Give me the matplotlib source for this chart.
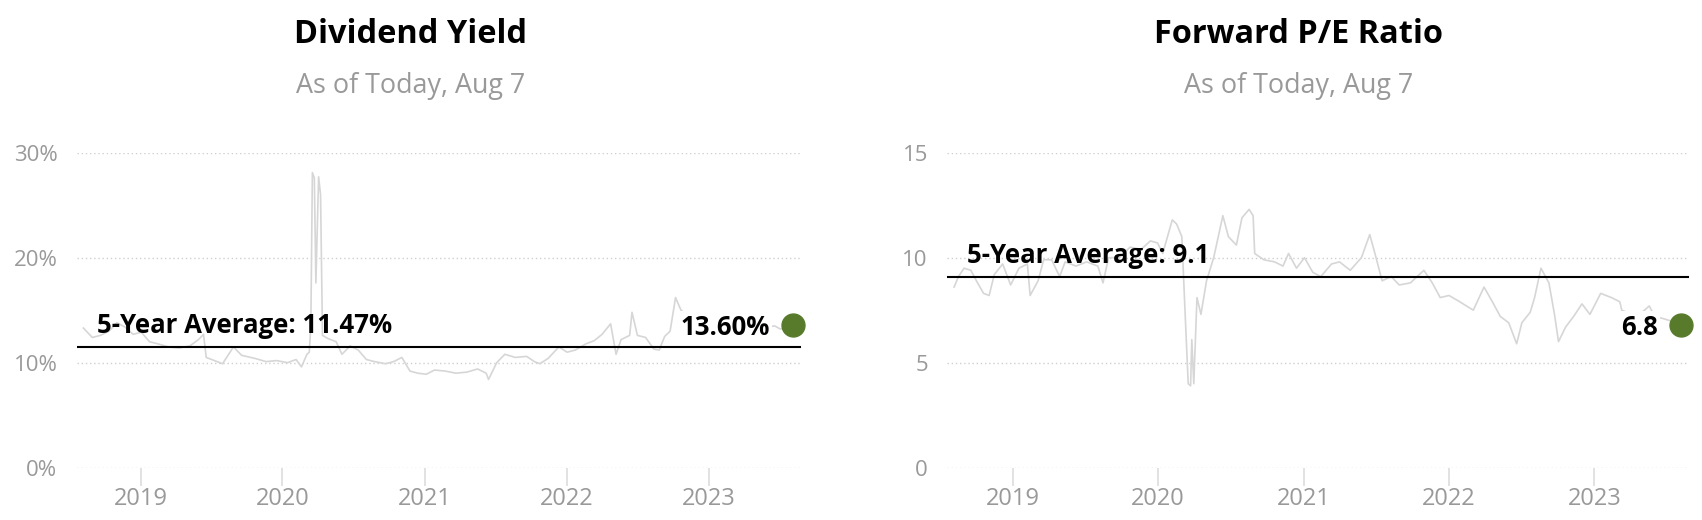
import matplotlib
matplotlib.use("Agg")
import matplotlib.pyplot as plt
import matplotlib.dates as mdates
import pandas as pd

plt.rcParams['font.family'] = ['Open Sans', 'DejaVu Sans']

# dividend yield (%)
dy_dates = ["2018-08-07", "2018-08-30", "2018-09-20", "2018-10-12", "2018-11-01", "2018-11-22",
            "2018-12-13", "2019-01-03", "2019-01-24", "2019-02-14", "2019-03-14", "2019-04-10",
            "2019-05-08", "2019-05-30", "2019-06-12", "2019-06-19", "2019-07-10", "2019-07-31",
            "2019-08-28", "2019-09-18", "2019-10-23", "2019-11-20", "2019-12-17", "2020-01-14",
            "2020-02-05", "2020-02-19", "2020-03-04", "2020-03-10", "2020-03-14", "2020-03-18",
            "2020-03-23", "2020-03-27", "2020-04-03", "2020-04-08", "2020-04-13", "2020-04-27",
            "2020-05-18", "2020-06-02", "2020-06-23", "2020-07-14", "2020-08-04", "2020-08-25",
            "2020-09-22", "2020-10-13", "2020-11-03", "2020-11-24", "2020-12-14", "2021-01-05",
            "2021-01-26", "2021-02-23", "2021-03-22", "2021-04-19", "2021-05-17", "2021-06-08",
            "2021-06-14", "2021-07-05", "2021-07-26", "2021-08-22", "2021-09-20", "2021-10-10",
            "2021-10-24", "2021-11-14", "2021-12-12", "2022-01-02", "2022-01-23", "2022-02-20",
            "2022-03-13", "2022-04-02", "2022-04-24", "2022-05-08", "2022-05-21", "2022-06-12",
            "2022-06-18", "2022-07-02", "2022-07-23", "2022-08-13", "2022-08-27", "2022-09-10",
            "2022-09-24", "2022-10-08", "2022-10-22", "2022-11-10", "2022-12-01", "2022-12-20",
            "2023-01-12", "2023-02-01", "2023-02-24", "2023-03-20", "2023-04-15", "2023-05-10",
            "2023-06-01", "2023-06-20", "2023-07-05", "2023-07-20", "2023-08-07"]
dy_values = [13.3, 12.4, 12.6, 13.0, 13.8, 13.4,
             12.7, 12.9, 12.0, 11.8, 11.5, 11.4,
             11.6, 12.2, 12.7, 10.5, 10.2, 9.9,
             11.5, 10.7, 10.4, 10.1, 10.2, 10.0,
             10.3, 9.6, 10.8, 11.0, 13.5, 28.1,
             27.6, 17.6, 27.7, 26.0, 12.6, 12.3,
             12.0, 10.8, 11.6, 11.2, 10.3, 10.1,
             9.9, 10.1, 10.5, 9.2, 9.0, 8.9,
             9.3, 9.2, 9.0, 9.1, 9.4, 9.0,
             8.4, 10.0, 10.8, 10.5, 10.6, 10.1,
             9.9, 10.4, 11.5, 11.0, 11.2, 11.8,
             12.1, 12.7, 13.7, 10.8, 12.2, 12.6,
             14.8, 12.6, 12.4, 11.3, 11.2, 12.5,
             13.0, 16.2, 15.0, 14.4, 13.3, 12.8,
             12.3, 12.2, 12.4, 12.6, 12.9, 13.1,
             13.4, 13.5, 13.2, 13.4, 13.6]
dy_avg = 11.47

# forward P/E
pe_dates = ["2018-08-07", "2018-08-18", "2018-09-01", "2018-09-18", "2018-10-02", "2018-10-20",
            "2018-11-03", "2018-11-16", "2018-12-07", "2018-12-27", "2019-01-17", "2019-02-07",
            "2019-02-14", "2019-03-06", "2019-03-20", "2019-04-09", "2019-04-29", "2019-05-13",
            "2019-06-09", "2019-07-06", "2019-08-03", "2019-08-16", "2019-08-30", "2019-09-26",
            "2019-10-23", "2019-11-20", "2019-12-13", "2019-12-31", "2020-01-13", "2020-02-06",
            "2020-02-17", "2020-03-01", "2020-03-08", "2020-03-17", "2020-03-23", "2020-03-26",
            "2020-03-31", "2020-04-08", "2020-04-18", "2020-05-02", "2020-05-20", "2020-06-12",
            "2020-06-26", "2020-07-16", "2020-07-30", "2020-08-17", "2020-08-27", "2020-08-31",
            "2020-09-23", "2020-10-20", "2020-11-10", "2020-11-24", "2020-12-14", "2021-01-03",
            "2021-01-24", "2021-02-13", "2021-03-12", "2021-04-01", "2021-04-28", "2021-05-26",
            "2021-06-16", "2021-06-29", "2021-07-17", "2021-08-09", "2021-08-29", "2021-09-26",
            "2021-10-30", "2021-11-20", "2021-12-10", "2022-01-01", "2022-01-28", "2022-03-03",
            "2022-03-30", "2022-04-20", "2022-05-10", "2022-05-31", "2022-06-20", "2022-07-03",
            "2022-07-24", "2022-08-04", "2022-08-20", "2022-09-09", "2022-09-23", "2022-10-03",
            "2022-10-21", "2022-11-10", "2022-12-01", "2022-12-21", "2023-01-17", "2023-02-13",
            "2023-03-06", "2023-03-11", "2023-04-05", "2023-05-01", "2023-05-19", "2023-06-02",
            "2023-06-23", "2023-07-10", "2023-08-07"]
pe_values = [8.6, 9.1, 9.5, 9.4, 8.9, 8.3,
             8.2, 9.2, 9.7, 8.7, 9.5, 9.7,
             8.2, 8.9, 9.9, 9.9, 9.1, 9.8,
             9.6, 9.8, 9.6, 8.8, 10.0, 10.0,
             10.5, 10.4, 10.8, 10.7, 10.2, 11.8,
             11.6, 11.0, 7.9, 4.0, 3.9, 6.1,
             4.0, 8.1, 7.3, 8.9, 10.0, 12.0,
             11.0, 10.6, 11.9, 12.3, 12.0, 10.2,
             9.9, 9.8, 9.6, 10.2, 9.5, 10.0,
             9.3, 9.1, 9.7, 9.8, 9.4, 10.0,
             11.1, 10.2, 8.9, 9.1, 8.7, 8.8,
             9.4, 8.8, 8.1, 8.2, 7.9, 7.5,
             8.6, 7.9, 7.2, 6.9, 5.9, 6.9,
             7.4, 8.1, 9.5, 8.8, 7.3, 6.0,
             6.7, 7.2, 7.8, 7.3, 8.3, 8.1,
             7.9, 7.5, 7.3, 7.4, 7.7, 7.2,
             7.1, 7.0, 6.8]
pe_avg = 9.1

titles = ["Dividend Yield", "Forward P/E Ratio"]
subtitle = "As of Today, Aug 7"

LINE = "#d6d6d6"
GRID = "#cfcfcf"
TICK = "#999999"
DOT = "#587b2b"

fig = plt.figure(figsize=(17.02, 5.2), dpi=100)

panels = [
    dict(rect=[0.0451, 0.1006, 0.4256, 0.6058], dates=dy_dates, vals=dy_values, avg=dy_avg,
         ylim=(0, 30), yticks=[0, 10, 20, 30], fmt="{:.0f}%", avg_fmt="{:.2f}%", last_fmt="{:.2f}%",
         title=titles[0], tx=411),
    dict(rect=[0.5566, 0.1006, 0.4358, 0.6058], dates=pe_dates, vals=pe_values, avg=pe_avg,
         ylim=(0, 15), yticks=[0, 5, 10, 15], fmt="{:.0f}", avg_fmt="{:.1f}", last_fmt="{:.1f}",
         title=titles[1], tx=1299),
]

for p in panels:
    ax = fig.add_axes(p["rect"])
    d = pd.to_datetime(p["dates"])
    v = p["vals"]
    ax.plot(d, v, color=LINE, lw=1.2, zorder=2)
    ax.axhline(p["avg"], color="black", lw=1.5, zorder=3)

    ax.set_xlim(pd.Timestamp("2018-07-21"), pd.Timestamp("2023-08-27"))
    ax.set_ylim(*p["ylim"])
    ax.set_yticks(p["yticks"])
    ax.set_yticklabels([p["fmt"].format(t) for t in p["yticks"]])
    ax.xaxis.set_major_locator(mdates.YearLocator())
    ax.xaxis.set_major_formatter(mdates.DateFormatter("%Y"))

    for s in ax.spines.values():
        s.set_visible(False)
    ax.grid(axis="y", color=GRID, lw=1, linestyle=(0, (1, 2)))
    ax.set_axisbelow(True)
    ax.tick_params(axis="y", length=0, pad=14, labelsize=16, labelcolor=TICK)
    ax.tick_params(axis="x", length=13, width=1.2, color="#dddddd", pad=1,
                   labelsize=17, labelcolor=TICK)

    # average label
    ax.annotate("5-Year Average: " + p["avg_fmt"].format(p["avg"]),
                xy=(0, p["avg"]), xycoords=("axes fraction", "data"),
                xytext=(14.5, 10), textcoords="offset points",
                ha="left", va="baseline", fontsize=18.5, fontweight="bold", zorder=4)

    # last value
    ax.plot(d[-1], v[-1], "o", color=DOT, ms=16.5, zorder=6, clip_on=False)
    ax.annotate(p["last_fmt"].format(v[-1]), xy=(d[-1], v[-1]),
                xytext=(-17, -7.2), textcoords="offset points",
                ha="right", va="baseline", fontsize=18.5, fontweight="bold", zorder=5,
                bbox=dict(boxstyle="square,pad=0.1", fc="white", ec="none"))

    fig.text(p["tx"] / 1702, 1 - 43 / 520, p["title"], ha="center", va="baseline",
             fontsize=23.4, fontweight="bold", color="black")
    fig.text(p["tx"] / 1702, 1 - 93 / 520, subtitle, ha="center", va="baseline",
             fontsize=19.4, color=TICK)

fig.savefig("out.png", dpi=100)
